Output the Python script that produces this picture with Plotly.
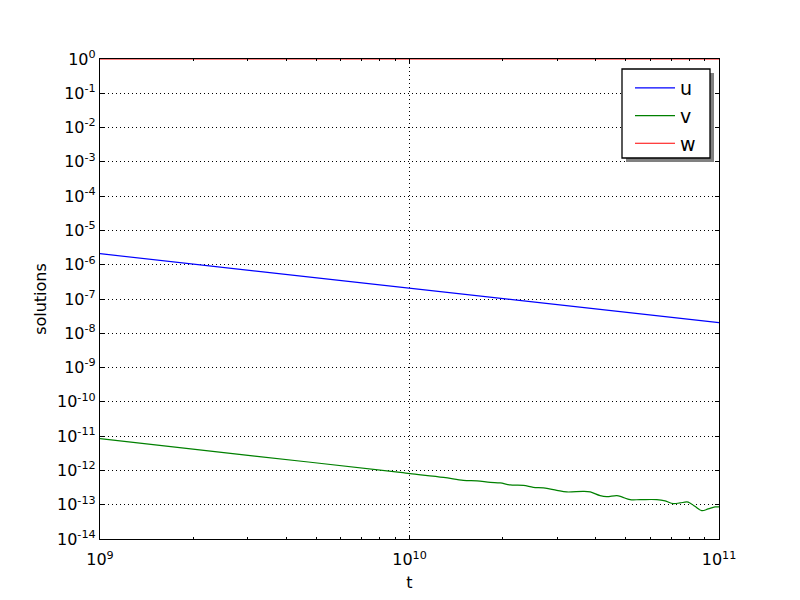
import plotly.graph_objects as go

# ---- data ----
t_u = [1e9, 1e10, 1e11]
u_vals = [2.1e-6, 2.08e-7, 2.04e-8]

t_w = [1e9, 1e11]
w_vals = [1.0, 1.0]

logt_v = [9.0, 9.5, 9.970, 10.002, 10.110, 10.174, 10.218, 10.261, 10.293, 10.325,
          10.368, 10.400, 10.433, 10.476, 10.508, 10.562, 10.584, 10.616, 10.637,
          10.670, 10.686, 10.713, 10.745, 10.799, 10.826, 10.852, 10.874, 10.896,
          10.906, 10.922, 10.944, 10.965, 10.987, 11.0]
logv_v = [-11.073, -11.58, -12.056, -12.094, -12.202, -12.289, -12.307, -12.348, -12.365,
          -12.423, -12.435, -12.493, -12.511, -12.581, -12.628, -12.610, -12.628, -12.735,
          -12.765, -12.735, -12.773, -12.852, -12.852, -12.852, -12.890, -12.969, -12.948,
          -12.919, -12.948, -13.048, -13.173, -13.123, -13.065, -13.065]
t_v = [10 ** a for a in logt_v]
v_vals = [10 ** b for b in logv_v]

x_tick_exps = [9, 10, 11]
y_tick_exps = list(range(0, -15, -1))
x_minor = [m * 10 ** e for e in (9, 10) for m in range(2, 10)]

FONT = "DejaVu Sans"

# plot area in pixels (for placing legend frame in paper coords)
PX_L, PX_R, PX_T, PX_B = 100, 719, 59, 539


def px(xp):
    return (xp - PX_L) / (PX_R - PX_L)


def py(yp):
    return (PX_B - yp) / (PX_B - PX_T)


fig = go.Figure()
fig.add_trace(go.Scatter(x=t_u, y=u_vals, mode="lines", name="u",
                         line=dict(color="#0000ff", width=1.2), legendgroup="a"))
fig.add_trace(go.Scatter(x=t_v, y=v_vals, mode="lines", name="v", line_shape="spline",
                         line=dict(color="#008000", width=1.2), legendgroup="b"))
fig.add_trace(go.Scatter(x=t_w, y=w_vals, mode="lines", name="w",
                         line=dict(color="#ff0000", width=1.2), legendgroup="c", cliponaxis=False))

axis_common = dict(
    showline=True, linecolor="black", linewidth=1.3, mirror="allticks",
    ticks="inside", ticklen=4, tickcolor="black",
    showgrid=True, gridcolor="black", griddash="1px,3px", gridwidth=1,
    zeroline=False, tickfont=dict(family=FONT, size=16, color="black"),
)

fig.update_xaxes(
    type="log", range=[9, 11],
    tickvals=[10 ** e for e in x_tick_exps],
    ticktext=["10<sup>%d</sup>" % e for e in x_tick_exps],
    minor=dict(ticks="inside", ticklen=2, tickcolor="black", showgrid=False,
               tickvals=x_minor),
    ticklabelstandoff=6,
    title=dict(text="t", font=dict(family=FONT, size=16, color="black"), standoff=8),
    **axis_common,
)
fig.update_yaxes(
    type="log", range=[-14, 0],
    tickvals=[10 ** e for e in y_tick_exps],
    ticktext=["10<sup>%d</sup>" % e for e in y_tick_exps],
    title=dict(text="solutions", font=dict(family=FONT, size=16, color="black"), standoff=6),
    **axis_common,
)

# legend frame with shadow
fig.add_shape(type="rect", xref="paper", yref="paper",
              x0=px(626), x1=px(714), y0=py(162), y1=py(73),
              fillcolor="#808080", line=dict(width=0), layer="above")
fig.add_shape(type="rect", xref="paper", yref="paper",
              x0=px(622), x1=px(710), y0=py(158), y1=py(69),
              fillcolor="white", line=dict(color="black", width=1.3), layer="above")

fig.update_layout(
    width=800, height=600,
    margin=dict(l=92, r=89, t=51, b=69),
    paper_bgcolor="white", plot_bgcolor="white",
    font=dict(family=FONT, color="black"),
    showlegend=True,
    legend=dict(x=px(621), y=py(69), xanchor="left", yanchor="top",
                bgcolor="rgba(0,0,0,0)", borderwidth=0,
                font=dict(family=FONT, size=19, color="black"),
                tracegroupgap=0, itemwidth=40, indentation=9),
)

fig.write_html("out.html")
